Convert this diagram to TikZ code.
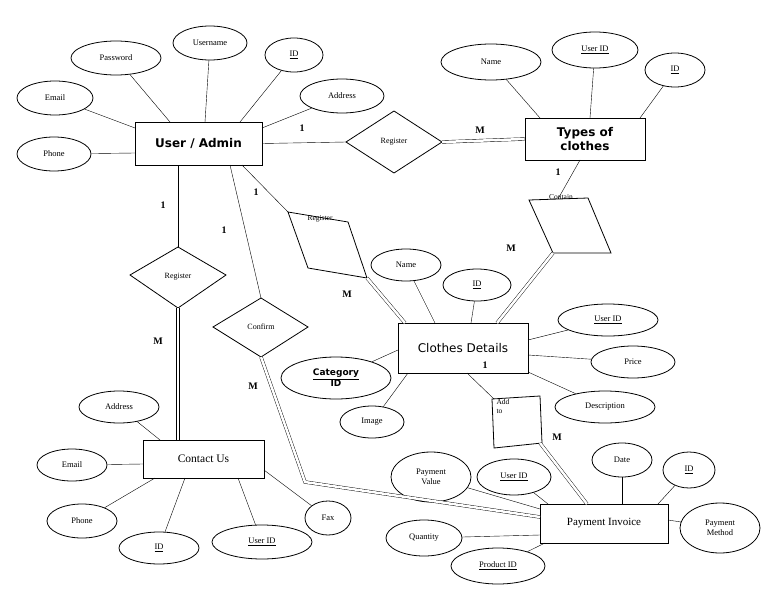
\documentclass[tikz,border=0pt]{standalone}
\usepackage{fontspec}
\setmainfont{Liberation Serif}
\setsansfont{DejaVu Sans}
\usetikzlibrary{shapes.geometric}
\begin{document}
\begin{tikzpicture}[x=1pt,y=-1pt,
  attr/.style={draw,thick,ellipse,inner sep=0pt,font=\fontsize{8.5}{9.5}\selectfont,align=center},
  ent/.style={draw,thick,rectangle,inner sep=0pt},
  rel/.style={draw,thick},
  ln/.style={draw},
  dbl/.style={draw,double,double distance=2.5pt},
  card/.style={font=\bfseries\fontsize{10}{11}\selectfont}]
\useasboundingbox (0,0) rectangle (768,594);
% entities
\node[ent,minimum width=127,minimum height=43,font=\sffamily\bfseries\fontsize{12}{14}\selectfont] (ua) at (198.5,143.5) {User / Admin};
\node[ent,minimum width=120,minimum height=42,font=\sffamily\bfseries\fontsize{12}{14}\selectfont,align=center] (tc) at (585,139) {Types of\\clothes};
\node[ent,minimum width=130,minimum height=50,font=\sffamily\fontsize{12}{14}\selectfont] (cd) at (463,348) {Clothes Details};
\node[ent,minimum width=121,minimum height=38,font=\fontsize{11.5}{13}\selectfont] (cu) at (203.5,459) {Contact Us};
\node[ent,minimum width=128,minimum height=39,font=\fontsize{11}{13}\selectfont] (pi) at (604,523.5) {Payment Invoice};
% attributes
\newcommand{\myattr}[5]{\node[attr,minimum width=#3,minimum height=#4] (#1) at #2 {#5};}
\myattr{a1}{(116,58)}{90}{34}{Password}
\myattr{a2}{(210,43)}{74}{34}{Username}
\myattr{a3}{(294,55)}{58}{34}{\underline{ID}}
\myattr{a4}{(342,96)}{84}{34}{Address}
\myattr{a5}{(55,98)}{76}{34}{Email}
\myattr{a6}{(54,154)}{74}{34}{Phone}
\myattr{b1}{(491,62)}{100}{36}{Name}
\myattr{b2}{(595,50)}{86}{36}{\underline{User ID}}
\myattr{b3}{(675,70)}{60}{34}{\underline{ID}}
\myattr{c1}{(406,265)}{70}{32}{Name}
\myattr{c2}{(477,285)}{68}{32}{\underline{ID}}
\myattr{c3}{(608,320)}{100}{32}{\underline{User ID}}
\myattr{c4}{(633,362)}{84}{32}{Price}
\myattr{c5}{(605,407)}{100}{32}{Description}
\node[attr,minimum width=110,minimum height=42,font=\sffamily\bfseries\fontsize{9}{11}\selectfont] (c6) at (336,378) {\underline{Category}\\ID};
\myattr{c7}{(372,422)}{64}{32}{Image}
\myattr{d1}{(119,407)}{80}{32}{Address}
\myattr{d2}{(72,465)}{70}{32}{Email}
\myattr{d3}{(82,521)}{70}{34}{Phone}
\myattr{d4}{(159,548)}{80}{32}{\underline{ID}}
\myattr{d5}{(262,542)}{100}{34}{\underline{User ID}}
\myattr{d6}{(328,518)}{46}{34}{Fax}
\myattr{e1}{(431,477)}{80}{50}{Payment\\Value}
\myattr{e2}{(514,477)}{74}{36}{\underline{User ID}}
\myattr{e3}{(622,460)}{60}{34}{Date}
\myattr{e4}{(689,470)}{52}{36}{\underline{ID}}
\myattr{e5}{(720,528)}{80}{50}{Payment\\Method}
\myattr{e6}{(424,538)}{76}{36}{Quantity}
\myattr{e7}{(498,566)}{94}{36}{\underline{Product ID}}
% relationships
\coordinate (r1l) at (346,142); \coordinate (r1r) at (442,142);
\draw[rel] (r1l) -- (394,111) -- (r1r) -- (394,173) -- cycle;
\node[font=\fontsize{8}{9}\selectfont] (r1) at (394,142) {Register};
\coordinate (r2t) at (178,247); \coordinate (r2b) at (178,308);
\draw[rel] (130,275) -- (r2t) -- (226,275) -- (r2b) -- cycle;
\node[font=\fontsize{8}{9}\selectfont] (r2) at (178,277) {Register};
\coordinate (r3t) at (261,298); \coordinate (r3b) at (261,357);
\draw[rel] (213,327) -- (r3t) -- (308,327) -- (r3b) -- cycle;
\node[font=\fontsize{8}{9}\selectfont] (r3) at (261,327) {Confirm};
\coordinate (r4t) at (288,212); \coordinate (r4b) at (367,278);
\draw[rel] (r4t) -- (348,222) -- (r4b) -- (308,268) -- cycle;
\node[font=\fontsize{7.5}{8}\selectfont] (r4) at (320,219) {Register};
\coordinate (r5t) at (558,199); \coordinate (r5b) at (553,253);
\draw[rel] (529,200) -- (588,198) -- (611,253) -- (r5b) -- cycle;
\node[font=\fontsize{7.5}{8}\selectfont] (r5) at (561,197) {Contain};
\coordinate (r6t) at (494,399); \coordinate (r6b) at (540,443);
\draw[rel] (492,399) -- (540,396) -- (542,443) -- (494,448) -- cycle;
\node[font=\fontsize{7.5}{9}\selectfont,align=left] (r6) at (503,406) {Add\\to};
% attribute links
\foreach \a/\px/\py in {a1/170/122,a2/205/122,a3/240/122,a4/262/128,a5/135/128,a6/135/153,
  b1/540/118,b2/590/118,b3/640/118,
  c1/435/323,c2/471/323,c3/528/340,c4/528/355,c5/528/372,c6/398/350,c7/408/373,
  d1/160/440,d2/143/464,d3/155/478,d4/185/478,d5/238/478,d6/264/470,
  e1/540/509,e2/548/504,e3/622/504,e4/658/504,e5/668/520,e6/540/535,e7/545/543}
  \draw[ln] (\a) -- (\px,\py);
% relationship links
\draw[ln] (ua.east) -- (r1l);
\draw[dbl] (r1r) -- (tc.west);
\draw[ln] (178,165) -- (r2t);
\draw[dbl] (r2b) -- (178,440);
\draw[ln] (230,165) -- (r3t);
\draw[dbl] (r3b) -- (305,482) -- (540,517);
\draw[ln] (242,165) -- (r4t);
\draw[dbl] (r4b) -- (405,323);
\draw[ln] (580,160) -- (r5t);
\draw[dbl] (r5b) -- (497,323);
\draw[ln] (467,373) -- (r6t);
\draw[dbl] (r6b) -- (587,504);
% cardinalities
\node[card] (k1) at (302,128) {1};
\node[card] (k2) at (480,130) {M};
\node[card] (k3) at (163,205) {1};
\node[card] (k4) at (158,341) {M};
\node[card] (k5) at (224,230) {1};
\node[card] (k6) at (253,386) {M};
\node[card] (k7) at (256,192) {1};
\node[card] (k8) at (347,294) {M};
\node[card] (k9) at (558,172) {1};
\node[card] (k10) at (511,248) {M};
\node[card] (k11) at (485,365) {1};
\node[card] (k12) at (557,437) {M};
\end{tikzpicture}
\end{document}
